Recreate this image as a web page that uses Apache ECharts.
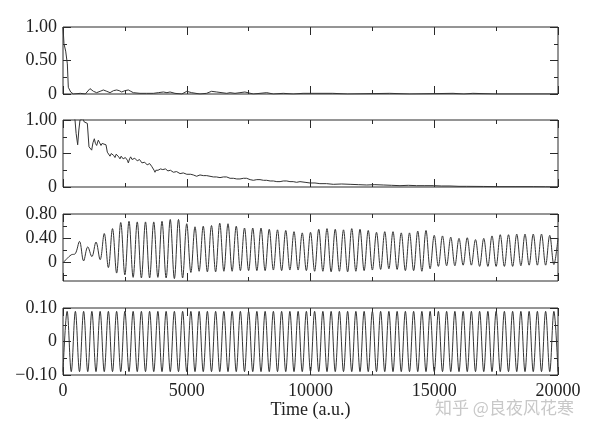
<!DOCTYPE html>
<html>
<head>
<meta charset="utf-8">
<script src="https://cdn.jsdelivr.net/npm/echarts@6/dist/echarts.min.js"></script>
<style>
html, body { margin: 0; padding: 0; background: #fff; }
#main { width: 600px; height: 431px; }
</style>
</head>
<body>
<div id="main"></div>
<script>
// x axis (time, a.u.)
const xTicks = [0, 5000, 10000, 15000, 20000];
const xMinor = [2500, 7500, 12500, 17500];

// panel 1: sharp spike then small bumps  [time, value]
const p1Points = [
    [0, 1.00], [40, 0.75], [108, 0.64], [175, 0.45], [215, 0.10], [310, 0.03], [420, 0.00],
    [700, 0.01], [900, 0.00], [1090, 0.08], [1230, 0.04], [1360, 0.02], [1500, 0.04],
    [1630, 0.06], [1770, 0.04], [1900, 0.02], [2040, 0.05], [2170, 0.06], [2270, 0.05],
    [2370, 0.03], [2500, 0.05], [2640, 0.06], [2740, 0.04], [2840, 0.02], [3110, 0.01],
    [3380, 0.01], [3650, 0.01], [3850, 0.02], [4055, 0.03], [4200, 0.02], [4325, 0.03],
    [4525, 0.01], [4800, 0.00], [5000, 0.04], [5200, 0.02], [5535, 0.00], [5800, 0.01],
    [6000, 0.04], [6210, 0.03], [6615, 0.01], [6750, 0.02], [6950, 0.01], [7150, 0.02],
    [7350, 0.03], [7690, 0.00], [8230, 0.02], [8500, 0.00], [8900, 0.01], [9300, 0.00],
    [9700, 0.01], [10900, 0.01], [11500, 0.00], [13200, 0.01], [14000, 0.00], [15760, 0.01],
    [16200, 0.00], [16560, 0.01], [17500, 0.00], [20000, 0.00]
];
const p1Ticks = [0, 0.5, 1];
const p1Minor = [0.25, 0.75];

// panel 2: noisy decay  [time, value]
const p2Points = [
    [400, 1.10], [485, 1.00], [530, 0.80], [593, 0.63], [640, 0.85], [687, 1.00], [750, 0.98],
    [800, 1.02], [860, 0.97], [930, 0.96], [983, 0.95], [1050, 0.60], [1100, 0.58], [1158, 0.55],
    [1210, 0.66], [1266, 0.72], [1310, 0.65], [1360, 0.62], [1427, 0.70], [1480, 0.66],
    [1535, 0.62], [1580, 0.65], [1630, 0.66], [1737, 0.63], [1791, 0.52], [1850, 0.50],
    [1899, 0.46], [1950, 0.50], [2006, 0.52], [2050, 0.47], [2100, 0.44], [2150, 0.49],
    [2195, 0.50], [2250, 0.45], [2303, 0.42], [2350, 0.46], [2397, 0.47], [2430, 0.42],
    [2464, 0.40], [2520, 0.44], [2572, 0.45], [2600, 0.40], [2640, 0.36], [2690, 0.42],
    [2734, 0.45], [2790, 0.41], [2842, 0.40], [2900, 0.43], [2950, 0.44], [3000, 0.39],
    [3043, 0.38], [3090, 0.41], [3138, 0.40], [3190, 0.36], [3245, 0.35], [3300, 0.37],
    [3353, 0.36], [3400, 0.33], [3447, 0.32], [3500, 0.35], [3543, 0.34], [3580, 0.31],
    [3624, 0.30], [3680, 0.25], [3717, 0.22], [3750, 0.25], [3785, 0.26], [3840, 0.25],
    [3892, 0.24], [3940, 0.27], [3986, 0.28], [4030, 0.26], [4080, 0.25], [4140, 0.27],
    [4190, 0.26], [4240, 0.24], [4294, 0.23], [4340, 0.25], [4390, 0.24], [4460, 0.22],
    [4525, 0.21], [4590, 0.23], [4660, 0.22], [4730, 0.20], [4795, 0.19], [4860, 0.21],
    [4930, 0.21], [5000, 0.19], [5065, 0.20], [5160, 0.19], [5265, 0.18], [5330, 0.17],
    [5400, 0.16], [5470, 0.18], [5535, 0.18], [5670, 0.17], [5805, 0.17], [5940, 0.16],
    [6075, 0.15], [6200, 0.15], [6343, 0.14], [6480, 0.15], [6613, 0.15], [6750, 0.13],
    [6884, 0.13], [7020, 0.12], [7150, 0.12], [7290, 0.13], [7420, 0.13], [7560, 0.11],
    [7690, 0.10], [7830, 0.11], [7960, 0.11], [8100, 0.10], [8230, 0.10], [8370, 0.09],
    [8500, 0.09], [8640, 0.08], [8770, 0.08], [8900, 0.09], [9040, 0.09], [9170, 0.08],
    [9300, 0.08], [9440, 0.07], [9575, 0.08], [9780, 0.07], [9980, 0.06], [10180, 0.06],
    [10380, 0.05], [10650, 0.05], [10920, 0.04], [11260, 0.045], [11600, 0.04], [11930, 0.035],
    [12270, 0.03], [12600, 0.035], [12940, 0.03], [13280, 0.025], [13615, 0.02], [13950, 0.025],
    [14290, 0.02], [14620, 0.02], [14960, 0.02], [15300, 0.015], [15635, 0.015], [16000, 0.01],
    [16310, 0.01], [17000, 0.008], [17655, 0.005], [18300, 0.005], [19000, 0.005],
    [19500, 0.003], [20000, 0.00]
];
const p2Ticks = [0, 0.5, 1];
const p2Minor = [0.25, 0.75];

// panels 3 and 4: oscillations, read at every half period (peaks / troughs)
const oscStep = 20000 / 120;
const p3Val = [
    0.00, 0.07, 0.13, 0.15, 0.35, 0.03, 0.26, 0.10, 0.34, 0.05,
    0.48, -0.08, 0.56, -0.17, 0.66, -0.20, 0.68, -0.24, 0.67, -0.25,
    0.67, -0.25, 0.67, -0.24, 0.68, -0.25, 0.71, -0.26, 0.71, -0.25,
    0.64, -0.16, 0.59, -0.14, 0.60, -0.15, 0.61, -0.15, 0.65, -0.14,
    0.64, -0.14, 0.60, -0.13, 0.57, -0.13, 0.57, -0.13, 0.57, -0.13,
    0.55, -0.12, 0.54, -0.13, 0.53, -0.12, 0.51, -0.12, 0.49, -0.13,
    0.50, -0.14, 0.55, -0.14, 0.56, -0.15, 0.55, -0.14, 0.54, -0.15,
    0.56, -0.14, 0.55, -0.13, 0.53, -0.12, 0.50, -0.11, 0.51, -0.10,
    0.51, -0.11, 0.49, -0.13, 0.49, -0.13, 0.52, -0.14, 0.53, -0.10,
    0.45, -0.06, 0.44, -0.05, 0.42, -0.05, 0.40, -0.04, 0.41, -0.04,
    0.38, -0.06, 0.40, -0.06, 0.44, -0.06, 0.46, -0.06, 0.46, -0.06,
    0.47, -0.05, 0.47, -0.04, 0.47, -0.04, 0.47, -0.04, 0.45, -0.03,
    0.40
];
const p3Ticks = [0, 0.4, 0.8];
const p3Minor = [-0.2, 0.2, 0.6];

const p4Val = [
    -0.09, 0.09, -0.09, 0.09, -0.09, 0.09, -0.09, 0.09, -0.09, 0.09,
    -0.09, 0.09, -0.09, 0.09, -0.09, 0.09, -0.09, 0.09, -0.09, 0.09,
    -0.09, 0.09, -0.09, 0.09, -0.09, 0.09, -0.09, 0.09, -0.09, 0.09,
    -0.09, 0.09, -0.09, 0.09, -0.09, 0.09, -0.09, 0.09, -0.09, 0.09,
    -0.09, 0.09, -0.09, 0.09, -0.09, 0.09, -0.09, 0.09, -0.09, 0.09,
    -0.09, 0.09, -0.09, 0.09, -0.09, 0.09, -0.09, 0.09, -0.09, 0.09,
    -0.09, 0.09, -0.09, 0.09, -0.09, 0.09, -0.09, 0.09, -0.09, 0.09,
    -0.09, 0.09, -0.09, 0.09, -0.09, 0.09, -0.09, 0.09, -0.09, 0.09,
    -0.09, 0.09, -0.09, 0.09, -0.09, 0.09, -0.09, 0.09, -0.09, 0.09,
    -0.09, 0.09, -0.09, 0.09, -0.09, 0.09, -0.09, 0.09, -0.09, 0.09,
    -0.09, 0.09, -0.09, 0.09, -0.09, 0.09, -0.09, 0.09, -0.09, 0.09,
    -0.09, 0.09, -0.09, 0.09, -0.09, 0.09, -0.09, 0.09, -0.09, 0.09,
    -0.09
];
const p4Ticks = [-0.1, 0, 0.1];
const p4Minor = [-0.05, 0.05];

const serif = 'Liberation Serif';
const inkColor = '#2a2a2a';

const fmtY = (v) => v === 0 ? '0' : (v < 0 ? '\u2212' : '') + Math.abs(v).toFixed(2);

const panels = [
    { top: 27, min: 0, max: 1, ticks: p1Ticks, minor: p1Minor, data: p1Points, smooth: false },
    { top: 120, min: 0, max: 1, ticks: p2Ticks, minor: p2Minor, data: p2Points, smooth: false },
    { top: 214, min: -0.3, max: 0.8, ticks: p3Ticks, minor: p3Minor, data: p3Val.map((v, i) => [i * oscStep, v]), smooth: 0.36 },
    { top: 308, min: -0.1, max: 0.1, ticks: p4Ticks, minor: p4Minor, data: p4Val.map((v, i) => [i * oscStep, v]), smooth: 0.36 }
];

// one axis that only draws ticks (and optionally labels)
function tickAxis(gi, pos, min, max, values, len, label) {
    return {
        type: 'value',
        gridIndex: gi,
        position: pos,
        min: min,
        max: max,
        axisLine: { show: false, onZero: false },
        splitLine: { show: false },
        axisTick: { show: true, inside: true, length: len, customValues: values, lineStyle: { color: inkColor, width: 1 } },
        axisLabel: label ? Object.assign({
            show: true,
            customValues: values,
            fontFamily: serif,
            fontSize: 18,
            color: '#222'
        }, label) : { show: false }
    };
}

const grids = [], xAxes = [], yAxes = [], series = [];
panels.forEach((p, gi) => {
    grids.push({ left: 63, width: 495, top: p.top, height: 67, show: true, borderColor: inkColor, borderWidth: 1 });

    const last = gi === panels.length - 1;
    const xb = tickAxis(gi, 'bottom', 0, 20000, xTicks, 8, last ? { margin: 7, formatter: (v) => String(v) } : null);
    if (last) {
        xb.name = 'Time (a.u.)';
        xb.nameLocation = 'middle';
        xb.nameGap = 25;
        xb.nameTextStyle = { fontFamily: serif, fontSize: 18, color: '#222' };
    }
    xAxes.push(xb);
    xAxes.push(tickAxis(gi, 'bottom', 0, 20000, xMinor, 4, null));
    xAxes.push(tickAxis(gi, 'top', 0, 20000, xTicks, 8, null));
    xAxes.push(tickAxis(gi, 'top', 0, 20000, xMinor, 4, null));

    yAxes.push(tickAxis(gi, 'left', p.min, p.max, p.ticks, 8, { margin: 6, formatter: fmtY }));
    yAxes.push(tickAxis(gi, 'left', p.min, p.max, p.minor, 4, null));
    yAxes.push(tickAxis(gi, 'right', p.min, p.max, p.ticks, 8, null));
    yAxes.push(tickAxis(gi, 'right', p.min, p.max, p.minor, 4, null));

    series.push({
        type: 'line',
        xAxisIndex: gi * 4,
        yAxisIndex: gi * 4,
        data: p.data,
        smooth: p.smooth,
        showSymbol: false,
        clip: true,
        lineStyle: { color: '#333', width: 1 }
    });
});

const chart = echarts.init(document.getElementById('main'));
chart.setOption({
    animation: false,
    backgroundColor: '#fff',
    grid: grids,
    xAxis: xAxes,
    yAxis: yAxes,
    series: series,
    graphic: [{
        type: 'text',
        left: 435,
        top: 399,
        style: {
            text: '知乎 @良夜风花寒',
            fill: '#c8c8c8',
            font: '17px "Noto Sans CJK SC"'
        }
    }]
});
</script>
</body>
</html>
